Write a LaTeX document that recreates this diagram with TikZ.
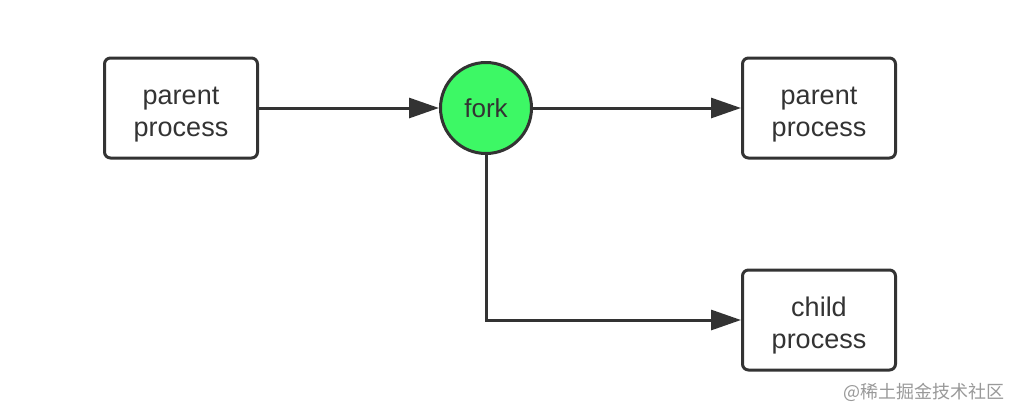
\documentclass[tikz,border=0pt]{standalone}
\usepackage{fontspec}
\setmainfont{Liberation Sans}
\newfontfamily\cjk{Noto Sans CJK SC}
\usetikzlibrary{arrows.meta}
\definecolor{ln}{HTML}{333333}
\definecolor{forkgreen}{HTML}{3DF865}
\begin{document}
\begin{tikzpicture}[x=1pt,y=-1pt,
  procbox/.style={draw=ln,line width=3pt,rounded corners=6pt,minimum width=153pt,minimum height=100pt,align=center,font=\fontsize{27}{32}\selectfont,text=ln,fill=white,text height=57pt,text depth=0pt},
  forknode/.style={circle,draw=ln,line width=3pt,fill=forkgreen,minimum size=91pt,inner sep=0pt,font=\fontsize{26}{30}\selectfont,text=ln},
  conn/.style={draw=ln,line width=3pt,-{Triangle[length=30pt,width=20pt]}}]
\useasboundingbox (0,0) rectangle (1020,416);
\fill[white] (0,0) rectangle (1020,416);
\node[procbox] (p1) at (181,108) {parent\\process};
\node[forknode] (fork) at (486,108) {fork};
\node[procbox] (p2) at (819,108) {parent\\process};
\node[procbox] (c1) at (819,320) {child\\process};
\draw[conn] (p1.east) -- (fork.west);
\draw[conn] (fork.east) -- (p2.west);
\draw[conn] (fork.south) |- (c1.west);
\node[anchor=east,text=black!40,font=\cjk\fontsize{18}{20}\selectfont,inner sep=0pt] (wm) at (1005,392) {@稀土掘金技术社区};
\end{tikzpicture}
\end{document}
